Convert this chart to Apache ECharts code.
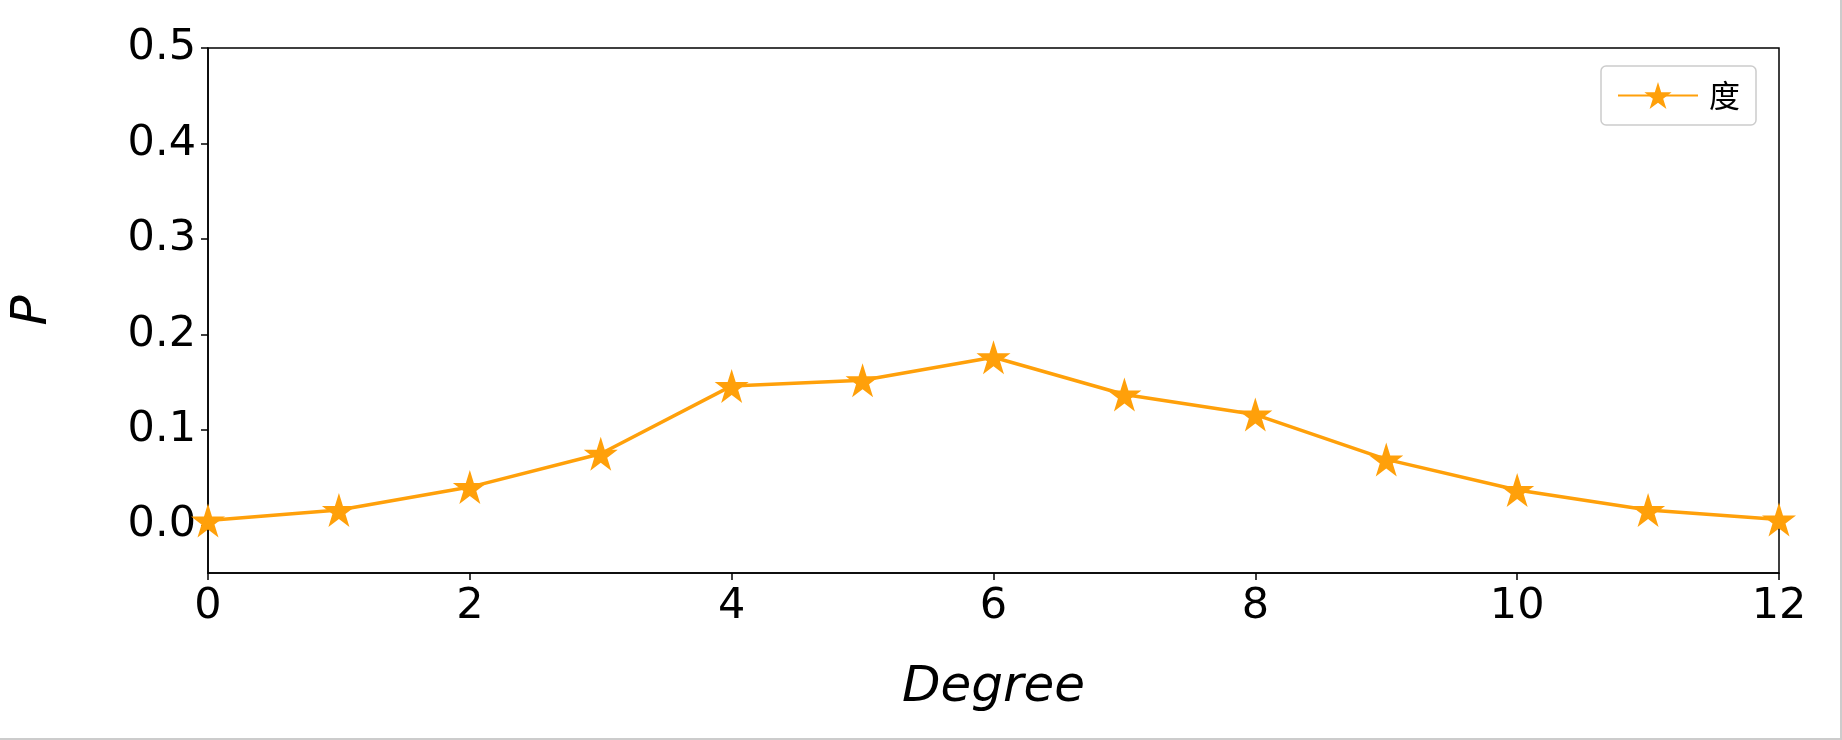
<!DOCTYPE html>
<html>
<head>
<meta charset="utf-8">
<script src="https://cdn.jsdelivr.net/npm/echarts@6/dist/echarts.min.js"></script>
<style>
  html, body { margin: 0; padding: 0; background: #fff; }
  #chart { width: 1842px; height: 740px; box-sizing: border-box; border-right: 2px solid #ccc; border-bottom: 2px solid #ccc; }
</style>
</head>
<body>
<div id="chart"></div>
<script>
// degree distribution
const degrees = [0, 1, 2, 3, 4, 5, 6, 7, 8, 9, 10, 11, 12];
const probs = [0.005, 0.016, 0.04, 0.075, 0.146, 0.152, 0.176, 0.137, 0.116, 0.069, 0.037, 0.016, 0.006];
const yTicks = [0, 0.1, 0.2, 0.3, 0.4, 0.5];
const xTicks = [0, 2, 4, 6, 8, 10, 12];
const seriesName = '度';

const star = 'path://M0,-1L0.2245,-0.309L0.951,-0.309L0.363,0.118L0.588,0.809L0,0.382L-0.588,0.809L-0.363,0.118L-0.951,-0.309L-0.2245,-0.309Z';
const chart = echarts.init(document.getElementById('chart'));
const font = 'DejaVu Sans';
const option = {
  backgroundColor: '#fff',
  animation: false,
  grid: { left: 203, right: 61, top: 48, bottom: 165, show: true, borderColor: '#000', borderWidth: 1.5 },
  legend: {
    right: 84, top: 66,
    padding: [14, 16],
    borderColor: '#ccc', borderWidth: 1.5, borderRadius: 5,
    itemWidth: 80, itemHeight: 34, itemGap: 10,
    textStyle: { fontSize: 31, fontFamily: 'Noto Sans CJK SC', color: '#000', padding: [0, 0, 0, 6] },
    data: [seriesName]
  },
  xAxis: {
    type: 'value', min: 0, max: 12,
    name: 'Degree', nameLocation: 'middle', nameGap: 90,
    nameTextStyle: { fontSize: 50, fontStyle: 'italic', fontFamily: font, color: '#000' },
    axisLine: { onZero: false, lineStyle: { color: '#000', width: 1.5 } },
    axisTick: { show: true, length: 7, lineStyle: { color: '#000', width: 1.5 }, customValues: xTicks },
    axisLabel: { fontSize: 43, fontFamily: font, color: '#000', margin: 12, customValues: xTicks },
    splitLine: { show: false }
  },
  yAxis: {
    type: 'value', min: -0.05, max: 0.5,
    name: 'P', nameLocation: 'middle', nameGap: 150, nameRotate: 90,
    nameTextStyle: { fontSize: 50, fontStyle: 'italic', fontFamily: font, color: '#000' },
    axisLine: { onZero: false, lineStyle: { color: '#000', width: 1.5 } },
    axisTick: { show: true, length: 7, lineStyle: { color: '#000', width: 1.5 }, customValues: yTicks },
    axisLabel: { fontSize: 43, fontFamily: font, color: '#000', margin: 12,
      formatter: v => v.toFixed(1), customValues: yTicks },
    splitLine: { show: false }
  },
  series: [{
    name: seriesName,
    type: 'line',
    data: degrees.map((d, i) => [d, probs[i]]),
    color: '#FFA00A',
    lineStyle: { width: 3.5, color: '#FFA00A' },
    symbol: star,
    symbolSize: 34,
    itemStyle: { color: '#FFA00A' },
    clip: false
  }]
};
chart.setOption(option);
</script>
</body>
</html>
